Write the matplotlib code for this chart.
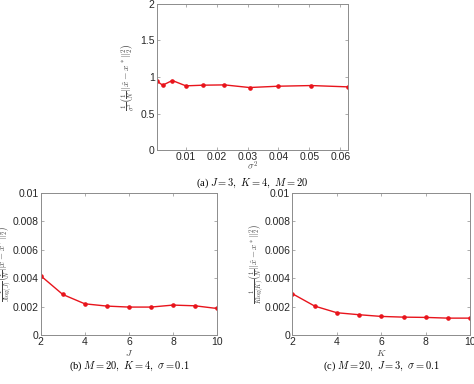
import matplotlib
matplotlib.use('Agg')
import matplotlib.pyplot as plt
import numpy as np

plt.rcParams.update({'font.size': 7.5, 'font.family': 'Liberation Sans', 'mathtext.fontset': 'cm',
                     'axes.linewidth': 0.6})

# (a) error vs noise variance
sigma2 = [0.000625, 0.0025, 0.005625, 0.01, 0.015625, 0.0225, 0.030625, 0.04, 0.050625, 0.0625]
err_a = [0.943, 0.888, 0.952, 0.879, 0.888, 0.892, 0.856, 0.874, 0.883, 0.865]

# (b) error vs J
J_vals = [2, 3, 4, 5, 6, 7, 8, 9, 10]
err_b = [0.00417, 0.00285, 0.00219, 0.00203, 0.00196, 0.00196, 0.00210, 0.00205, 0.00186]

# (c) error vs K
K_vals = [2, 3, 4, 5, 6, 7, 8, 9, 10]
err_c = [0.00290, 0.00203, 0.00156, 0.00142, 0.00130, 0.00125, 0.00123, 0.00118, 0.00118]

red = '#e8141c'
frame = '#8c8c8c'
tick_col = '#262626'
lab_col = '#444444'

def style(ax):
    for s in ax.spines.values():
        s.set_color(frame)
        s.set_linewidth(0.7)
    ax.tick_params(direction='in', length=2.5, width=0.5, colors=frame, labelcolor=tick_col,
                   top=True, right=True, labelsize=7.5, pad=1.5)

fig = plt.figure(figsize=(4.74, 3.84), dpi=100)

ax1 = fig.add_axes([0.331, 0.609, 0.403, 0.381])
ax1.plot(sigma2, err_a, color=red, lw=1.0, marker='o', ms=2.3)
ax1.set_xlim(0.000625, 0.0625)
ax1.set_ylim(0, 2)
ax1.set_xticks([0.01, 0.02, 0.03, 0.04, 0.05, 0.06])
ax1.set_xticklabels(['0.01', '0.02', '0.03', '0.04', '0.05', '0.06'])
ax1.set_yticks([0, 0.5, 1, 1.5, 2])
ax1.set_yticklabels(['0', '0.5', '1', '1.5', '2'])
ax1.set_xlabel(r'$\sigma^2$', fontsize=7, color=lab_col, va='center')
ax1.xaxis.set_label_coords(0.5, -0.105)
ax1.set_ylabel(r'$\frac{1}{\sigma^2}\left(\frac{1}{N}\|\hat{x}-x^*\|_2^2\right)$', fontsize=7,
               color=lab_col, va='center')
ax1.yaxis.set_label_coords(-0.15, 0.5)
style(ax1)
fig.text(0.5325, 1 - 183 / 384, r'(a) $J=3,\ K=4,\ M=20$', ha='center', va='center',
         fontsize=7.5, family='Liberation Serif')

ax2 = fig.add_axes([0.0859, 0.128, 0.372, 0.369])
ax2.plot(J_vals, err_b, color=red, lw=1.0, marker='o', ms=2.3)
ax2.set_xlim(2, 10)
ax2.set_ylim(0, 0.01)
ax2.set_xticks([2, 4, 6, 8, 10])
ax2.set_yticks([0, 0.002, 0.004, 0.006, 0.008, 0.01])
ax2.set_yticklabels(['0', '0.002', '0.004', '0.006', '0.008', '0.01'])
ax2.set_xlabel(r'$J$', fontsize=7, color=lab_col, va='center')
ax2.xaxis.set_label_coords(0.5, -0.125)
ax2.set_ylabel(r'$\frac{1}{J\log(J)}\left(\frac{1}{N}\|\hat{x}-x^*\|_2^2\right)$', fontsize=6.5,
               color=lab_col, va='center')
ax2.yaxis.set_label_coords(-0.2, 0.5)
style(ax2)
fig.text(0.272, 1 - 366 / 384, r'(b) $M=20,\ K=4,\ \sigma=0.1$', ha='center', va='center',
         fontsize=7.5, family='Liberation Serif')

ax3 = fig.add_axes([0.617, 0.128, 0.375, 0.369])
ax3.plot(K_vals, err_c, color=red, lw=1.0, marker='o', ms=2.3)
ax3.set_xlim(2, 10)
ax3.set_ylim(0, 0.01)
ax3.set_xticks([2, 4, 6, 8, 10])
ax3.set_yticks([0, 0.002, 0.004, 0.006, 0.008, 0.01])
ax3.set_yticklabels(['0', '0.002', '0.004', '0.006', '0.008', '0.01'])
ax3.set_xlabel(r'$K$', fontsize=7, color=lab_col, va='center')
ax3.xaxis.set_label_coords(0.5, -0.125)
ax3.set_ylabel(r'$\frac{1}{K\log(K)}\left(\frac{1}{N}\|\hat{x}-x^*\|_2^2\right)$', fontsize=6.5,
               color=lab_col, va='center')
ax3.yaxis.set_label_coords(-0.2, 0.5)
style(ax3)
fig.text(0.804, 1 - 366 / 384, r'(c) $M=20,\ J=3,\ \sigma=0.1$', ha='center', va='center',
         fontsize=7.5, family='Liberation Serif')

fig.savefig('out.png', dpi=100)
